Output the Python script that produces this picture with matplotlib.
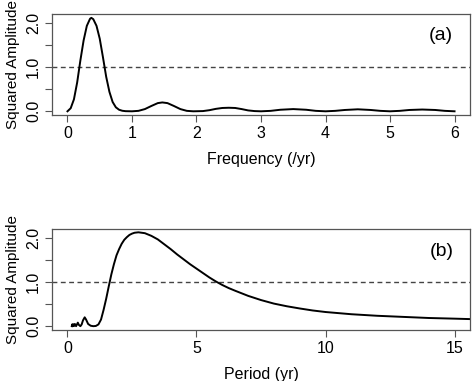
import matplotlib
matplotlib.use("Agg")
import matplotlib.pyplot as plt

plt.rcParams['font.family'] = ['Liberation Sans', 'DejaVu Sans']

# panel (a): squared amplitude vs frequency
freq = [0.0, 0.05, 0.1, 0.15, 0.2, 0.25, 0.3, 0.35, 0.37, 0.4, 0.45, 0.5,
        0.55, 0.6, 0.65, 0.7, 0.75, 0.8, 0.85, 0.9, 1.0,
        1.1, 1.2, 1.3, 1.4, 1.47, 1.55, 1.65, 1.75, 1.85, 1.95,
        2.1, 2.2, 2.3, 2.4, 2.5, 2.6, 2.7, 2.8, 2.9, 3.0,
        3.15, 3.3, 3.5, 3.7, 3.85, 4.0,
        4.15, 4.3, 4.5, 4.7, 4.85, 5.0,
        5.15, 5.3, 5.5, 5.7, 5.85, 6.0]
amp_freq = [0.0, 0.07, 0.27, 0.65, 1.15, 1.6, 1.93, 2.09, 2.11, 2.08, 1.93, 1.64,
            1.22, 0.78, 0.44, 0.21, 0.09, 0.035, 0.012, 0.003, 0.0,
            0.01, 0.05, 0.12, 0.185, 0.2, 0.185, 0.12, 0.05, 0.01, 0.0,
            0.005, 0.025, 0.055, 0.075, 0.08, 0.075, 0.05, 0.02, 0.005, 0.0,
            0.01, 0.035, 0.05, 0.035, 0.01, 0.0,
            0.01, 0.03, 0.045, 0.03, 0.01, 0.0,
            0.01, 0.03, 0.04, 0.03, 0.01, 0.0]

# panel (b): squared amplitude vs period
period = [0.167, 0.18, 0.2, 0.222, 0.25, 0.286, 0.333, 0.36, 0.4, 0.44, 0.5,
          0.55, 0.6, 0.667, 0.72, 0.8, 0.9, 1.0, 1.1, 1.2, 1.3, 1.4, 1.5,
          1.6, 1.7, 1.8, 1.9, 2.0, 2.1, 2.2, 2.3, 2.4, 2.5, 2.6, 2.75,
          3.0, 3.25, 3.5, 3.75, 4.0, 4.25, 4.5, 4.75, 5.0, 5.25, 5.5, 5.75,
          6.0, 6.25, 6.5, 7.0, 7.5, 8.0, 8.5, 9.0, 9.5, 10.0, 10.5,
          11.0, 12.0, 13.0, 14.0, 15.0, 15.6]
amp_period = [0.0, 0.04, 0.0, 0.045, 0.0, 0.05, 0.0, 0.03, 0.08, 0.03, 0.0,
              0.04, 0.13, 0.2, 0.15, 0.05, 0.01, 0.0, 0.005, 0.04, 0.15, 0.37, 0.62,
              0.9, 1.17, 1.4, 1.6, 1.74, 1.86, 1.95, 2.01, 2.06, 2.09, 2.11, 2.12,
              2.1, 2.04, 1.96, 1.85, 1.74, 1.62, 1.51, 1.4, 1.3, 1.2, 1.1, 1.01,
              0.93, 0.86, 0.8, 0.685, 0.59, 0.51, 0.45, 0.4, 0.355, 0.32, 0.295,
              0.27, 0.235, 0.21, 0.185, 0.17, 0.16]

ylim = (-0.085, 2.195)
frame_col = '#555555'

fig = plt.figure(figsize=(4.74, 3.81), dpi=100)
ax_a = fig.add_axes([0.1097, 0.698, 0.8819, 0.265])
ax_b = fig.add_axes([0.1097, 0.134, 0.8819, 0.265])


def style(ax):
    for s in ax.spines.values():
        s.set_color(frame_col)
        s.set_linewidth(0.9)
    ax.tick_params(direction='out', length=5, width=0.8, color=frame_col,
                   labelsize=11.5, pad=3)
    ax.set_ylim(*ylim)
    ax.set_yticks([0, 0.5, 1.0, 1.5, 2.0])
    ax.set_yticklabels(['0.0', '', '1.0', '', '2.0'], rotation=90, va='center')
    ax.axhline(1.0, color='#444444', lw=1.0, ls=(0, (3.5, 2.5)))
    ax.set_ylabel('Squared Amplitude', fontsize=11, labelpad=4)


style(ax_a)
ax_a.plot(freq, amp_freq, color='black', lw=1.4)
ax_a.set_xlim(-0.24, 6.24)
ax_a.set_xticks(range(7))
ax_a.set_xlabel('Frequency (/yr)', fontsize=11.5, labelpad=8)
ax_a.text(5.78, 1.72, '(a)', fontsize=14, ha='center', va='center')

style(ax_b)
ax_b.plot(period, amp_period, color='black', lw=1.4)
ax_b.set_xlim(-0.6, 15.6)
ax_b.set_xticks([0, 5, 10, 15])
ax_b.set_xlabel('Period (yr)', fontsize=11.5, labelpad=8)
ax_b.text(14.5, 1.68, '(b)', fontsize=14, ha='center', va='center')

fig.savefig('out.png', dpi=100)
